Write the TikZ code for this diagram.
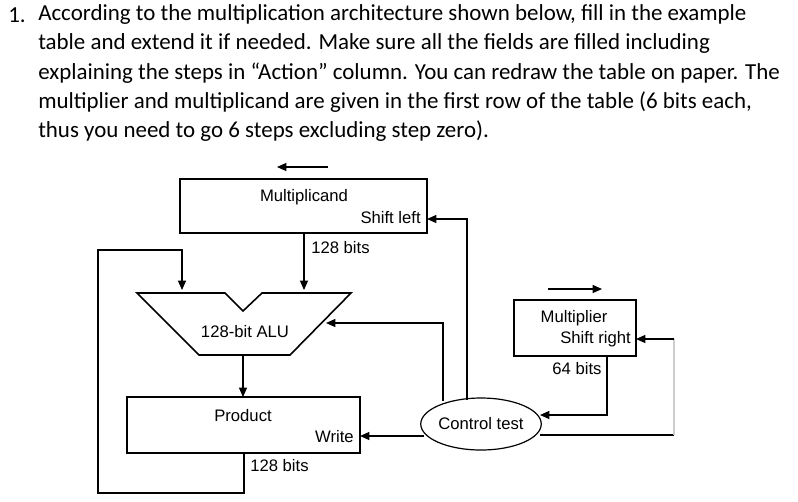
\documentclass[tikz,border=0pt]{standalone}
\usepackage{fontspec}
\setmainfont{Carlito}
\newfontfamily\arial{Liberation Sans}
\usetikzlibrary{arrows.meta,shapes.geometric}
\begin{document}
\begin{tikzpicture}[x=0.75pt,y=-0.75pt,
  lbl/.style={font=\arial\fontsize{12.5}{14}\selectfont,inner sep=0},
  para/.style={font=\fontsize{17.2}{21.75}\selectfont,inner sep=0,anchor=west},
  box/.style={draw,line width=1.2pt},
  wire/.style={line width=0.9pt},
  arr/.style={wire,-{Triangle[length=7pt,width=6pt]}}]
\useasboundingbox (0,0) rectangle (798,501);
\node[para] (n1) at (8,15) {1.};
\node[para] (t1) at (38,15) {According to the multiplication architecture shown below, fill in the example};
\node[para] (t2) at (38,44) {table and extend it if needed. Make sure all the fields are filled including};
\node[para] (t3) at (38,73) {explaining the steps in “Action” column. You can redraw the table on paper. The};
\node[para] (t4) at (38,102) {multiplier and multiplicand are given in the first row of the table (6 bits each,};
\node[para] (t5) at (38,131) {thus you need to go 6 steps excluding step zero).};
% Multiplicand
\draw[box] (180,179) rectangle (427,233);
\coordinate (mcR) at (427,219);
\node[lbl] (mc) at (304,197) {Multiplicand};
\node[lbl,anchor=east] (sl) at (421,218) {Shift left};
\coordinate (la1) at (328,167); \coordinate (la2) at (277,167);
\draw[arr] (la1) -- (la2);
% ALU
\draw[box] (137,293) -- (225,293) -- (243,311) -- (262,293) -- (351,293) -- (290,355) -- (199,355) -- cycle;
\node[lbl] (alu) at (245,332) {128-bit ALU};
\coordinate (aluT1) at (182,290); \coordinate (aluT2) at (304,290);
\coordinate (aluR) at (326,323); \coordinate (aluB) at (243,355);
% Product
\draw[box] (127,397) rectangle (360,453);
\node[lbl] (pr) at (243,416) {Product};
\node[lbl,anchor=east] (wr) at (354,437) {Write};
\coordinate (prT) at (243,397); \coordinate (prR) at (360,436); \coordinate (prB) at (244,453);
% Multiplier
\draw[box] (514,300) rectangle (636,356);
\node[lbl] (mp) at (574,318) {Multiplier};
\node[lbl,anchor=east] (sr) at (631,339) {Shift right};
\coordinate (mpR) at (636,339); \coordinate (mpB) at (607,356);
\coordinate (ra1) at (548,289); \coordinate (ra2) at (602,289);
\draw[arr] (ra1) -- (ra2);
% Control
\node[draw,ellipse,line width=0.9pt,minimum width=89pt,minimum height=39pt,inner sep=0,font=\arial\fontsize{12.5}{14}\selectfont] (ct) at (481,424) {Control test};
% labels
\node[lbl,anchor=west] (b1) at (311,248) {128 bits};
\node[lbl,anchor=west] (b2) at (250,466) {128 bits};
\node[lbl] (b3) at (577,369) {64 bits};
% wires
\draw[arr] (304,233) -- (aluT2);
\draw[arr] (prB) -- (244,493) -- (98,493) -- (98,250) -- (182,250) -- (aluT1);
\draw[arr] (aluB) -- (prT);
\draw[arr] (467,400) -- (467,219) -- (mcR);
\draw[arr] (443,401) -- (443,323) -- (aluR);
\draw[arr] (424,436) -- (prR);
\draw[arr] (mpB) -- (607,415) -- (540,415);
\draw[wire] (540,435) -- (674,435);
\draw[wire,gray!40] (674,435) -- (674,339);
\draw[arr] (674,339) -- (mpR);
\end{tikzpicture}
\end{document}
